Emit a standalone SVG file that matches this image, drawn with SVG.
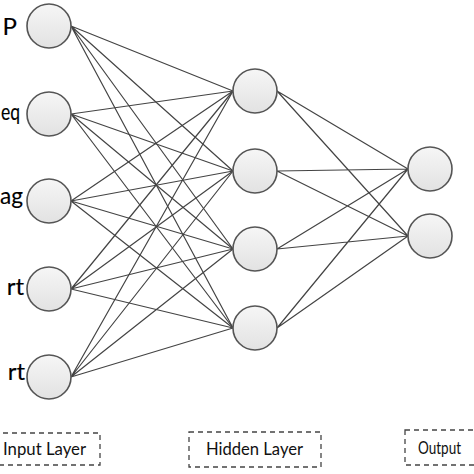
<svg xmlns="http://www.w3.org/2000/svg" width="474" height="474" viewBox="0 0 474 474">
<defs>
<linearGradient id="g" x1="0" y1="0" x2="0" y2="1">
<stop offset="0" stop-color="#f6f6f6"/>
<stop offset="1" stop-color="#e2e2e2"/>
</linearGradient>
<style>
.n{fill:url(#g);stroke:#555;stroke-width:1.6}
.e{stroke:#444;stroke-width:1.2;fill:none}
.lab{font-family:Lato,"Open Sans",sans-serif;font-size:24px;fill:#000;stroke:#000;stroke-width:0.15}
.box{fill:none;stroke:#444;stroke-width:1.3;stroke-dasharray:5 4}
.bt{font-family:Lato,"Open Sans",sans-serif;font-size:17px;fill:#111}
</style>
</defs>
<rect width="474" height="474" fill="#fff"/>
<g id="connectors" class="e">
<path d="M71 26L233 91M71 26L233 171M71 26L233 249M71 26L233 328"/>
<path d="M71 114L233 91M71 114L233 171M71 114L233 249M71 114L233 328"/>
<path d="M71 201L233 91M71 201L233 171M71 201L233 249M71 201L233 328"/>
<path d="M71 289L233 91M71 289L233 171M71 289L233 249M71 289L233 328"/>
<path d="M71 377L233 91M71 377L233 171M71 377L233 249M71 377L233 328"/>
<path d="M277 91L408 169M277 91L408 236M277 171L408 169M277 171L408 236M277 249L408 169M277 249L408 236M277 328L408 169M277 328L408 236"/>
</g>
<g id="in1"><circle class="n" cx="49" cy="26" r="22"/><text class="lab" x="17" y="35" text-anchor="end">P</text></g>
<g id="in2"><circle class="n" cx="49" cy="114" r="22"/><text class="lab" x="1" y="120" textLength="19" lengthAdjust="spacingAndGlyphs">eq</text></g>
<g id="in3"><circle class="n" cx="49" cy="201" r="22"/><text class="lab" x="0" y="204" textLength="23" lengthAdjust="spacingAndGlyphs">ag</text></g>
<g id="in4"><circle class="n" cx="49" cy="289" r="22"/><text class="lab" x="24" y="295" text-anchor="end">rt</text></g>
<g id="in5"><circle class="n" cx="49" cy="377" r="22"/><text class="lab" x="25" y="380" text-anchor="end">rt</text></g>
<g id="h1"><circle class="n" cx="255" cy="91" r="22"/></g>
<g id="h2"><circle class="n" cx="255" cy="171" r="22"/></g>
<g id="h3"><circle class="n" cx="255" cy="249" r="22"/></g>
<g id="h4"><circle class="n" cx="255" cy="328" r="22"/></g>
<g id="o1"><circle class="n" cx="430" cy="169" r="22"/></g>
<g id="o2"><circle class="n" cx="430" cy="236" r="22"/></g>
<g id="inputLayer"><rect class="box" x="-6" y="433" width="106" height="32"/><text class="bt" x="3" y="455" textLength="83" lengthAdjust="spacingAndGlyphs">Input Layer</text></g>
<g id="hiddenLayer"><rect class="box" x="189" y="432" width="132" height="35"/><text class="bt" x="206" y="455" textLength="97" lengthAdjust="spacingAndGlyphs">Hidden Layer</text></g>
<g id="outputLayer"><rect class="box" x="405" y="430" width="80" height="35"/><text class="bt" x="418" y="454" font-size="18" textLength="43" lengthAdjust="spacingAndGlyphs">Output</text></g>
</svg>
